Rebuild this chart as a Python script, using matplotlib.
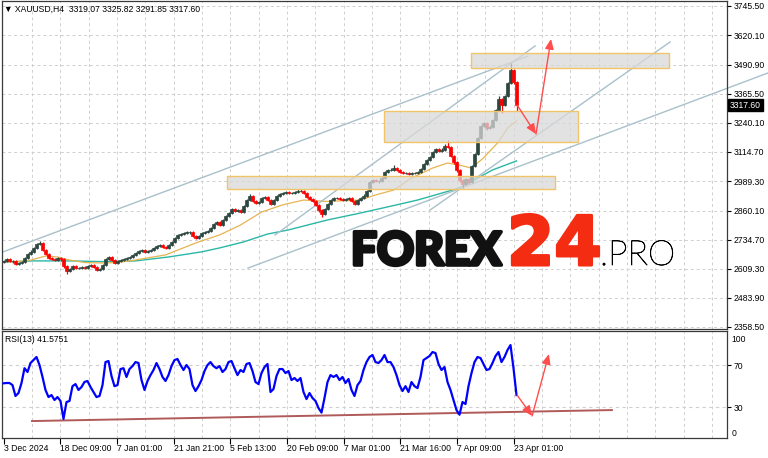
import matplotlib
matplotlib.use("Agg")
import matplotlib.pyplot as plt
import matplotlib.patheffects as pe
import numpy as np
from matplotlib.patches import Rectangle, FancyArrowPatch

# ---------------- data ----------------
symbol_header = "\u25BC XAUUSD,H4  3319.07 3325.82 3291.85 3317.60"
rsi_header = "RSI(13) 41.5751"

first_open = 2640
closes = [2644, 2652, 2644, 2644, 2631, 2635, 2639, 2657, 2674, 2683,
          2700, 2717, 2721, 2691, 2674, 2657, 2652, 2648, 2657, 2652,
          2622, 2600, 2609, 2622, 2613, 2613, 2618, 2613, 2622, 2626,
          2618, 2605, 2609, 2626, 2652, 2661, 2648, 2635, 2644, 2648,
          2652, 2657, 2661, 2670, 2678, 2687, 2691, 2683, 2687, 2691,
          2700, 2708, 2713, 2704, 2700, 2713, 2726, 2743, 2756, 2760,
          2765, 2769, 2769, 2752, 2743, 2752, 2765, 2769, 2773, 2786,
          2804, 2812, 2799, 2821, 2838, 2851, 2868, 2860, 2864, 2855,
          2881, 2907, 2925, 2903, 2894, 2899, 2916, 2920, 2907, 2890,
          2907, 2925, 2933, 2937, 2942, 2937, 2937, 2942, 2946, 2946,
          2937, 2920, 2912, 2903, 2886, 2864, 2847, 2868, 2890, 2907,
          2916, 2916, 2912, 2907, 2912, 2916, 2903, 2890, 2907, 2916,
          2925, 2946, 2985, 2994, 2989, 2989, 3002, 3028, 3037, 3037,
          3045, 3037, 3028, 3024, 3024, 3020, 3024, 3024, 3028, 3041,
          3063, 3080, 3093, 3115, 3128, 3119, 3123, 3141, 3136, 3097,
          3071, 3037, 2994, 2976, 2998, 2985, 3054, 3106, 3175, 3227,
          3240, 3218, 3223, 3253, 3296, 3344, 3318, 3357, 3413, 3469,
          3417, 3317.6]
highs = [2650, 2657, 2656, 2650, 2648, 2640, 2645, 2662, 2679, 2690,
         2706, 2722, 2728, 2725, 2696, 2679, 2663, 2658, 2662, 2661,
         2655, 2626, 2614, 2627, 2627, 2619, 2624, 2623, 2627, 2632,
         2630, 2622, 2615, 2631, 2657, 2667, 2665, 2652, 2650, 2654,
         2658, 2662, 2667, 2675, 2684, 2692, 2697, 2695, 2693, 2696,
         2705, 2714, 2719, 2717, 2709, 2718, 2731, 2748, 2762, 2766,
         2771, 2775, 2775, 2773, 2757, 2758, 2770, 2775, 2779, 2791,
         2809, 2818, 2816, 2826, 2843, 2857, 2873, 2872, 2870, 2868,
         2886, 2912, 2932, 2929, 2907, 2905, 2921, 2926, 2924, 2911,
         2912, 2930, 2939, 2943, 2948, 2947, 2943, 2948, 2954, 2955,
         2950, 2941, 2924, 2916, 2907, 2890, 2868, 2873, 2895, 2912,
         2922, 2922, 2921, 2917, 2918, 2922, 2920, 2907, 2912, 2922,
         2931, 2951, 2990, 3000, 2999, 2995, 3008, 3033, 3043, 3044,
         3057, 3050, 3041, 3033, 3030, 3029, 3030, 3030, 3034, 3046,
         3068, 3086, 3099, 3120, 3134, 3132, 3130, 3148, 3167, 3140,
         3101, 3075, 3041, 2999, 3004, 3003, 3060, 3112, 3181, 3233,
         3246, 3245, 3230, 3259, 3302, 3357, 3349, 3363, 3419, 3500,
         3474, 3422]
lows = [2634, 2640, 2638, 2637, 2625, 2626, 2630, 2635, 2652, 2670,
        2679, 2695, 2712, 2686, 2668, 2651, 2646, 2642, 2643, 2645,
        2615, 2588, 2595, 2604, 2607, 2607, 2609, 2607, 2609, 2617,
        2612, 2600, 2600, 2605, 2621, 2647, 2643, 2630, 2631, 2639,
        2643, 2647, 2652, 2656, 2665, 2673, 2682, 2678, 2678, 2682,
        2686, 2695, 2703, 2699, 2694, 2695, 2708, 2721, 2738, 2751,
        2755, 2760, 2762, 2746, 2737, 2738, 2747, 2760, 2764, 2768,
        2781, 2799, 2793, 2794, 2816, 2833, 2846, 2854, 2855, 2849,
        2850, 2876, 2902, 2897, 2888, 2889, 2894, 2911, 2901, 2884,
        2885, 2902, 2920, 2928, 2932, 2931, 2931, 2932, 2937, 2940,
        2931, 2914, 2906, 2897, 2880, 2857, 2833, 2842, 2863, 2885,
        2902, 2910, 2906, 2901, 2902, 2907, 2897, 2884, 2885, 2902,
        2911, 2920, 2941, 2980, 2983, 2982, 2984, 2997, 3023, 3031,
        3032, 3031, 3022, 3018, 3018, 3014, 3015, 3018, 3019, 3023,
        3036, 3058, 3075, 3088, 3110, 3113, 3114, 3118, 3130, 3091,
        3064, 3030, 2985, 2957, 2970, 2978, 2980, 3049, 3100, 3170,
        3221, 3211, 3212, 3218, 3248, 3290, 3283, 3312, 3352, 3408,
        3410, 3291.85]

ma_fast_idx = [0, 8, 14, 18, 22, 27, 33, 38, 44, 54, 65, 72, 79, 86, 93,
               100, 108, 115, 119, 124, 130, 136, 143, 148, 152, 156, 160,
               165, 168, 171]
ma_fast = [2639, 2644, 2665, 2661, 2648, 2637, 2635, 2637, 2648, 2670,
           2726, 2756, 2799, 2855, 2886, 2907, 2901, 2905, 2907, 2929,
           2950, 3002, 3045, 3067, 3058, 3045, 3089, 3158, 3218, 3249]
ma_slow_idx = [0, 10, 22, 33, 44, 55, 66, 72, 80, 88, 95, 108, 119, 131,
               138, 152, 163, 171]
ma_slow = [2639, 2644, 2644, 2641, 2644, 2661, 2683, 2700, 2726, 2760,
           2778, 2821, 2851, 2886, 2907, 2959, 3037, 3076]

rsi = [52.7, 53.0, 53.0, 51.0, 40.7, 43.5, 53.0, 67.0, 63.4, 71.9,
       74.7, 77.6, 70.0, 58.7, 46.4, 39.7, 41.6, 36.9, 39.7, 36.0,
       19.0, 35.0, 36.0, 50.0, 52.0, 46.4, 49.2, 54.0, 54.9, 49.2,
       44.5, 39.7, 40.7, 51.0, 72.8, 73.8, 59.6, 50.0, 51.0, 66.2,
       67.0, 58.7, 66.2, 69.0, 72.8, 71.9, 55.8, 46.4, 54.9, 60.5,
       65.3, 71.9, 66.2, 58.7, 54.9, 60.5, 69.0, 74.7, 75.7, 70.0,
       65.3, 70.0, 66.2, 51.0, 45.4, 50.0, 55.8, 64.3, 70.0, 72.8,
       69.0, 67.0, 69.0, 63.4, 66.2, 72.8, 73.8, 67.0, 60.5, 65.3,
       63.4, 71.0, 71.9, 64.3, 53.9, 52.0, 62.4, 68.1, 71.0, 44.5,
       47.3, 59.6, 66.2, 66.2, 62.4, 64.3, 55.8, 57.7, 54.9, 57.7,
       44.5, 37.8, 43.5, 38.8, 36.0, 29.3, 25.0, 38.8, 53.9, 60.5,
       58.7, 60.5, 55.8, 58.7, 53.0, 56.8, 46.4, 40.7, 51.0, 54.9,
       65.3, 72.8, 77.6, 79.5, 72.8, 71.9, 74.7, 79.5, 72.8, 72.8,
       68.1, 60.5, 51.0, 45.4, 50.0, 44.5, 53.9, 50.0, 48.2, 58.7,
       74.7, 76.6, 78.5, 82.3, 81.3, 71.0, 65.3, 68.1, 53.9, 46.4,
       36.9, 27.4, 23.0, 35.0, 33.1, 50.0, 62.4, 72.8, 77.6, 76.6,
       71.0, 65.3, 66.2, 71.9, 78.5, 82.3, 72.8, 77.6, 84.2, 88.9,
       67.0, 41.58]

# hand-drawn objects, in (bar index, price) / (bar index, RSI)
channel_lines = [
    [(-1.2, 2678), (174.8, 3529)],
    [(90.5, 2756), (177.2, 3573)],
    [(142.2, 2864), (222.2, 3590)],
    [(81.5, 2613), (254.8, 3456)],
]
zones = [  # (x0, x1, price_low, price_high)
    (155.7, 221.9, 3476, 3544),
    (126.9, 191.4, 3157, 3293),
    (74.5, 183.9, 2955, 3013),
]
forecast_price = [(171.2, 3317.6), (177.5, 3192), (182.5, 3603)]
forecast_rsi = [(171.2, 41.6), (176.2, 21.8), (181.8, 80.4)]
rsi_support = [(9.5, 17.0), (202.8, 27.4)]

price_ticks = [3745.50, 3620.10, 3490.90, 3365.50, 3240.10, 3114.70,
               2989.30, 2860.10, 2734.70, 2609.30, 2483.90, 2358.50]
last_price = 3317.60
time_labels = ["3 Dec 2024", "18 Dec 09:00", "7 Jan 01:00", "21 Jan 21:00",
               "5 Feb 13:00", "20 Feb 09:00", "7 Mar 01:00", "21 Mar 16:00",
               "7 Apr 09:00", "23 Apr 01:00"]

# ---------------- styling ----------------
BULL = "#2d463f"
BEAR = "#ff0000"
GRID = "#cfcfcf"
CHAN = "#a9c0cc"
ARROW = "#ff4d4d"
FONT = ["Liberation Sans", "DejaVu Sans"]
plt.rcParams["font.family"] = FONT

W, H = 768, 458
fig = plt.figure(figsize=(W / 100, H / 100), dpi=100)
fig.patch.set_facecolor("white")


def px_box(l, t, r, b):
    return [l / W, 1 - b / H, (r - l) / W, (b - t) / H]


ax = fig.add_axes(px_box(2, 1, 727, 329))
axr = fig.add_axes(px_box(2, 331, 727, 438))

bar_px = 3.0
xmax = (727 - 2) / bar_px - 0.5
for a in (ax, axr):
    a.set_xlim(-0.5, xmax)
    for s in a.spines.values():
        s.set_color("#3a3a3a")
        s.set_linewidth(0.9)
ax.set_ylim(2349.8, 3767.1)
axr.set_ylim(0.97, 102.2)

# grid
label_step = 18.89
grid_pos = np.arange(0, xmax, label_step / 2)
for a in (ax, axr):
    for g in grid_pos[1:]:
        a.axvline(g, color=GRID, lw=0.7, ls=(0, (3, 3)), zorder=0)
for p in price_ticks:
    ax.axhline(p, color=GRID, lw=0.7, ls=(0, (3, 3)), zorder=0)
for lv in (70, 30):
    axr.axhline(lv, color=GRID, lw=0.8, ls=(0, (3, 3)), zorder=0)

# moving averages
ax.plot(ma_slow_idx, ma_slow, color="#2ab7a6", lw=1.0, zorder=2)
ax.plot(ma_fast_idx, ma_fast, color="#e6b450", lw=0.9, zorder=2)

# channel lines
for i, seg in enumerate(channel_lines):
    xs, ys = zip(*seg)
    ax.plot(xs, ys, color=CHAN, lw=1.0, zorder=2,
            clip_on=(i != 3))

# candles
c = np.array(closes, dtype=float)
o = np.r_[first_open, c[:-1]]
hi = np.array(highs, dtype=float)
lo = np.array(lows, dtype=float)
idx = np.arange(len(c))
cols = np.where(c >= o, BULL, BEAR)
ax.vlines(idx, lo, hi, colors=cols, lw=0.9, zorder=3)
ax.bar(idx, np.abs(c - o), bottom=np.minimum(o, c), width=0.8,
       color=cols, edgecolor=cols, lw=0.5, zorder=4)

# zones
for x0, x1, p0, p1 in zones:
    ax.add_patch(Rectangle((x0, p0), x1 - x0, p1 - p0, facecolor="#d9d9d9",
                           alpha=0.75, edgecolor="none", zorder=5))
    ax.add_patch(Rectangle((x0, p0), x1 - x0, p1 - p0, facecolor="none",
                           edgecolor="#f2c46a", lw=1.0, zorder=5))

# forecast arrows
for a, path in ((ax, forecast_price), (axr, forecast_rsi)):
    for (x0, y0), (x1, y1) in zip(path[:-1], path[1:]):
        a.add_patch(FancyArrowPatch((x0, y0), (x1, y1),
                                    arrowstyle="-|>,head_length=6,head_width=2.6",
                                    mutation_scale=1, color=ARROW, lw=1.0,
                                    shrinkA=0, shrinkB=0, zorder=7))

# RSI
axr.plot(idx, rsi, color="#0000ff", lw=1.6, zorder=4)
xs, ys = zip(*rsi_support)
axr.plot(xs, ys, color="#b05a5a", lw=1.4, zorder=3)

# axes ticks
ax.yaxis.tick_right()
ax.set_yticks(price_ticks)
ax.set_yticklabels([f"{p:.2f}" for p in price_ticks])
ax.tick_params(axis="y", length=3, width=0.8, pad=1.5, labelsize=6.2,
               colors="#000000")
ax.tick_params(axis="x", bottom=False, labelbottom=False)
ax.annotate(f"{last_price:.2f}", xy=(1, last_price),
            xycoords=("axes fraction", "data"), xytext=(2.2, 0),
            textcoords="offset points", va="center", ha="left",
            color="white", fontsize=6.2, zorder=10, annotation_clip=False,
            bbox=dict(boxstyle="square,pad=0.2", fc="black", ec="black"))

axr.yaxis.tick_right()
axr.set_yticks([70, 30])
axr.set_yticklabels(["70", "30"])
axr.tick_params(axis="y", length=3, width=0.8, pad=1.5, labelsize=6.2)
for val, lab in ((94.6, "100"), (5.7, "0")):
    axr.annotate(lab, xy=(1, val), xycoords=("axes fraction", "data"),
                 xytext=(3.5, 0), textcoords="offset points", va="center",
                 ha="left", fontsize=6.2, annotation_clip=False)

tick_pos = [k * label_step for k in range(len(time_labels))]
axr.set_xticks(tick_pos)
axr.set_xticklabels(time_labels, ha="left")
axr.tick_params(axis="x", length=4, width=0.8, pad=0.5, labelsize=6.2)

# headers
fig.text(4 / W, 1 - 9 / H, symbol_header, fontsize=6.2, va="center",
         ha="left", family=FONT, zorder=10)
fig.text(5 / W, 1 - 340 / H, rsi_header, fontsize=6.2, va="center",
         ha="left", family=FONT, zorder=10)

# watermark
fig.text(351 / W, 1 - 265 / H, "FOREX", fontsize=33, fontweight="black",
         family=["Lato", "DejaVu Sans"], color="#111111", va="baseline",
         ha="left", zorder=20,
         path_effects=[pe.withStroke(linewidth=2.6, foreground="#111111")])
fig.text(507 / W, 1 - 265 / H, "24", fontsize=49, fontweight="bold",
         family=["DejaVu Sans"], color="#f42c12", va="baseline", ha="left",
         zorder=20,
         path_effects=[pe.withStroke(linewidth=2.2, foreground="#f42c12")])
fig.text(600 / W, 1 - 265 / H, ".PRO", fontsize=25, fontweight="light",
         family=["Lato", "DejaVu Sans"], color="#000000", va="baseline",
         ha="left", zorder=20,
         path_effects=[pe.withStroke(linewidth=0.5, foreground="#000000")])

fig.savefig("out.png", dpi=100, facecolor="white")
